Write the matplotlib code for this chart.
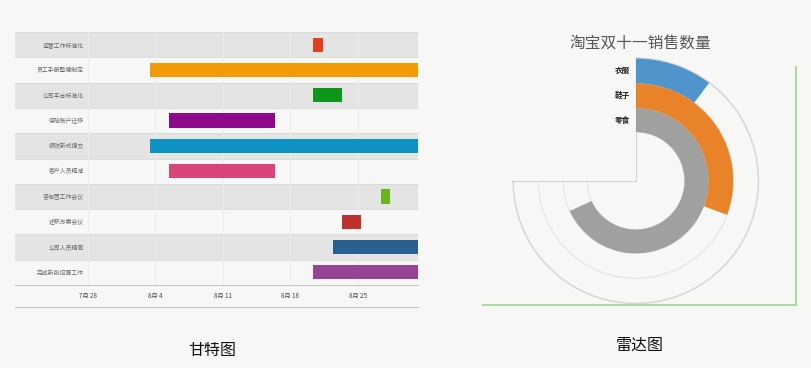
#importing required libraries
import numpy as np
import matplotlib.pyplot as plt
from matplotlib.patches import Rectangle
from matplotlib.lines import Line2D

plt.rcParams['font.family'] = ['Noto Sans CJK SC', 'DejaVu Sans']

#gantt chart data (days counted from 7月28)
tasks = ['运营工作标准化', '员工手册整编制定', '公司平台标准化', '保险账户迁移', '绩效新式提交',
         '客户人员精减', '咨询团工作会议', '述职方案会议', '公司人员精简', '完成新版招聘工作']
starts = [23.4, 6.4, 23.4, 8.4, 6.4, 8.4, 30.4, 26.4, 25.4, 23.4]
durations = [1.0, 28.0, 3.0, 11.0, 28.0, 11.0, 1.0, 2.0, 9.0, 11.0]
colors = ['#e0401c', '#f29b05', '#0d9619', '#8e0a8c', '#0e93c4',
          '#d9457a', '#6ab51c', '#c0302c', '#2a6090', '#974497']
tick_days = [0, 7, 14, 21, 28]
tick_labels = ['7月 28', '8月 4', '8月 11', '8月 18', '8月 25']

#radial bar data
items = ['衣服', '鞋子', '零食']
sales = [1200, 3600, 8000]
sales_max = 8800
item_colors = ['#4f95cc', '#e8832a', '#a0a09e']

fig = plt.figure(figsize=(8.12, 3.68), dpi=100, facecolor='#f7f8f6')

#gantt chart
ax = fig.add_axes([88/812, 83/368, 330/812, 253/368])
ax.set_facecolor('none')
n = len(tasks)
ax.set_ylim(n - 0.5, -0.5)
ax.set_xlim(0, 34.27)
left_ext = -73/330
for i in range(n):
    if i % 2 == 0:
        ax.add_patch(Rectangle((left_ext, i - 0.5), 1 - left_ext, 1, transform=ax.get_yaxis_transform(),
                               facecolor='#e3e4e3', edgecolor='none', clip_on=False, zorder=0))
for i in range(n + 1):
    ax.add_line(Line2D([left_ext, 1], [i - 0.5, i - 0.5], transform=ax.get_yaxis_transform(),
                       color='#d8d8d8', lw=0.6, clip_on=False, zorder=1))
for d in tick_days:
    ax.axvline(d, color='#ececec', lw=0.8, zorder=1)
ax.barh(range(n), durations, left=starts, height=0.56, color=colors, zorder=3)
ax.set_yticks(range(n))
ax.set_yticklabels(tasks, fontsize=4.2, color='#666666')
ax.set_xticks(tick_days)
ax.set_xticklabels(tick_labels, fontsize=4.5, color='#444444')
ax.tick_params(length=0)
ax.tick_params(axis='y', pad=3)
ax.tick_params(axis='x', pad=5)
for s in ax.spines.values():
    s.set_visible(False)
ax.add_line(Line2D([left_ext, 1], [0, 0], transform=ax.transAxes, color='#c8c8c8', lw=0.8, clip_on=False))
ax.add_line(Line2D([left_ext, 1], [-22/253, -22/253], transform=ax.transAxes, color='#c8c8c8', lw=0.8, clip_on=False))

#radial bar chart
pax = fig.add_axes([513/812, 62/368, 248/812, 248/368], projection='polar')
pax.set_facecolor('none')
pax.set_theta_zero_location('N')
pax.set_theta_direction(-1)
pax.set_thetamin(0)
pax.set_thetamax(270)
pax.set_ylim(0, 123.5)
ring_in = [98, 73, 49]
ring_w = [25, 25, 24]
angles = [np.radians(v / sales_max * 270) for v in sales]
pax.barh([r + w / 2 for r, w in zip(ring_in, ring_w)], angles, height=ring_w, left=0,
         color=item_colors, zorder=3)
for name, r, w in zip(items, ring_in, ring_w):
    pax.annotate(name, xy=(0, r + w / 2), xytext=(-6, 0), textcoords='offset pixels',
                 ha='right', va='center', fontsize=5.5, fontweight='bold', color='#222222')
pax.set_yticks([49, 73, 98, 123])
pax.set_yticklabels([])
pax.set_xticks([])
pax.grid(True, axis='y', color='#e2e2e2', lw=0.8)
for s in pax.spines.values():
    s.set_color('#d4d4d4')
    s.set_linewidth(0.8)
fig.text(640/812, 1 - 44/368, '淘宝双十一销售数量', ha='center', va='center', fontsize=11.3, color='#555555')

#green frame of the slide placeholder
fig.add_artist(Line2D([796/812, 796/812], [1 - 67/368, 1 - 305/368], color='#a8dca0', lw=1.5))
fig.add_artist(Line2D([483/812, 796/812], [1 - 305/368, 1 - 305/368], color='#a8dca0', lw=1.5))

#captions
fig.text(212/812, 1 - 350/368, '甘特图', ha='center', va='center', fontsize=11.5, color='#111111')
fig.text(640/812, 1 - 345/368, '雷达图', ha='center', va='center', fontsize=11.5, color='#111111')

#saving the generated plot
fig.savefig('out.png', dpi=100, facecolor=fig.get_facecolor())
